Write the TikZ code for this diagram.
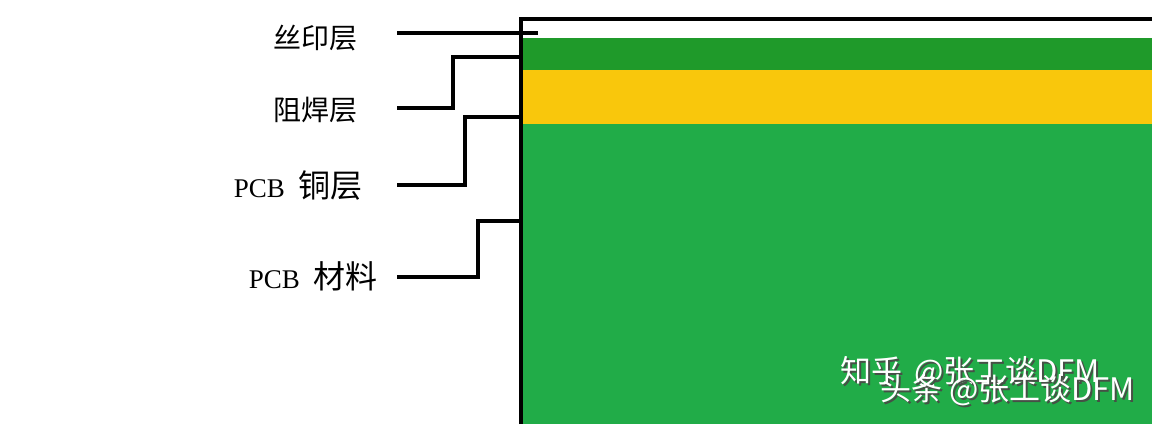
\documentclass[tikz,border=0pt]{standalone}
\usepackage{fontspec}
\setmainfont{Liberation Serif}
\newfontfamily\cjk{Noto Sans CJK SC}
\usetikzlibrary{positioning}
\definecolor{maskgreen}{RGB}{31,154,42}
\definecolor{copperyellow}{RGB}{249,199,12}
\definecolor{boardgreen}{RGB}{33,172,72}
\definecolor{shadowgray}{RGB}{70,80,70}

\begin{document}
\begin{tikzpicture}[x=1pt,y=-1pt]
\tikzstyle{every node}+=[inner sep=0pt]
\tikzstyle{lead}=[black, line width=3.4pt]
\tikzstyle{layername}=[anchor=east]
\tikzstyle{wmark}=[anchor=west, font=\cjk\fontsize{31}{34}\selectfont]
\useasboundingbox (0,0) rectangle (1152,424);
\fill [white] (0,0) rectangle (1152,424);
% board and its layers
\fill [maskgreen] (521,38) rectangle (1152,70);
\fill [copperyellow] (521,70) rectangle (1152,124);
\fill [boardgreen] (521,124) rectangle (1152,424);
\coordinate (bl) at (521,424);
\coordinate (tl) at (521,19);
\coordinate (tr) at (1152,19);
\draw [black, line width=4.5pt] (bl) -- (tl) -- (tr);
% layer names
\node [layername, font=\cjk\fontsize{28}{32}\selectfont] (silk) at (358,38) {丝印层};
\node [layername, font=\cjk\fontsize{28}{32}\selectfont] (mask) at (358,110) {阻焊层};
\node [layername, font=\fontsize{27}{30}\selectfont] (copper) at (363,186) {PCB\hspace{14pt}{\cjk\fontsize{32}{36}\selectfont 铜层}};
\node [layername, font=\fontsize{27}{30}\selectfont] (base) at (378,276) {PCB\hspace{14pt}{\cjk\fontsize{32}{36}\selectfont 材料}};
% leader lines
\coordinate (silk-a) at (397,33);
\coordinate (silk-b) at (538,33);
\coordinate (mask-a) at (397,108);
\coordinate (mask-k) at (453,57);
\coordinate (mask-b) at (521,57);
\coordinate (copper-a) at (397,185);
\coordinate (copper-k) at (465,117);
\coordinate (copper-b) at (521,117);
\coordinate (base-a) at (397,277);
\coordinate (base-k) at (478,221);
\coordinate (base-b) at (521,221);
\draw [lead] (silk-a) -- (silk-b);
\draw [lead] (mask-a) -| (mask-k) -- (mask-b);
\draw [lead] (copper-a) -| (copper-k) -- (copper-b);
\draw [lead] (base-a) -| (base-k) -- (base-b);
% watermarks
\node [wmark, text=shadowgray] (zhihu-s) at (842,374) {知乎\hspace{12pt}@张工谈DFM};
\node [wmark, text=white] (zhihu) at (840,372) {知乎\hspace{12pt}@张工谈DFM};
\node [wmark, text=shadowgray] (toutiao-s) at (882,392) {头条 @张工谈DFM};
\node [wmark, text=white] (toutiao) at (880,390) {头条 @张工谈DFM};
\end{tikzpicture}
\end{document}
